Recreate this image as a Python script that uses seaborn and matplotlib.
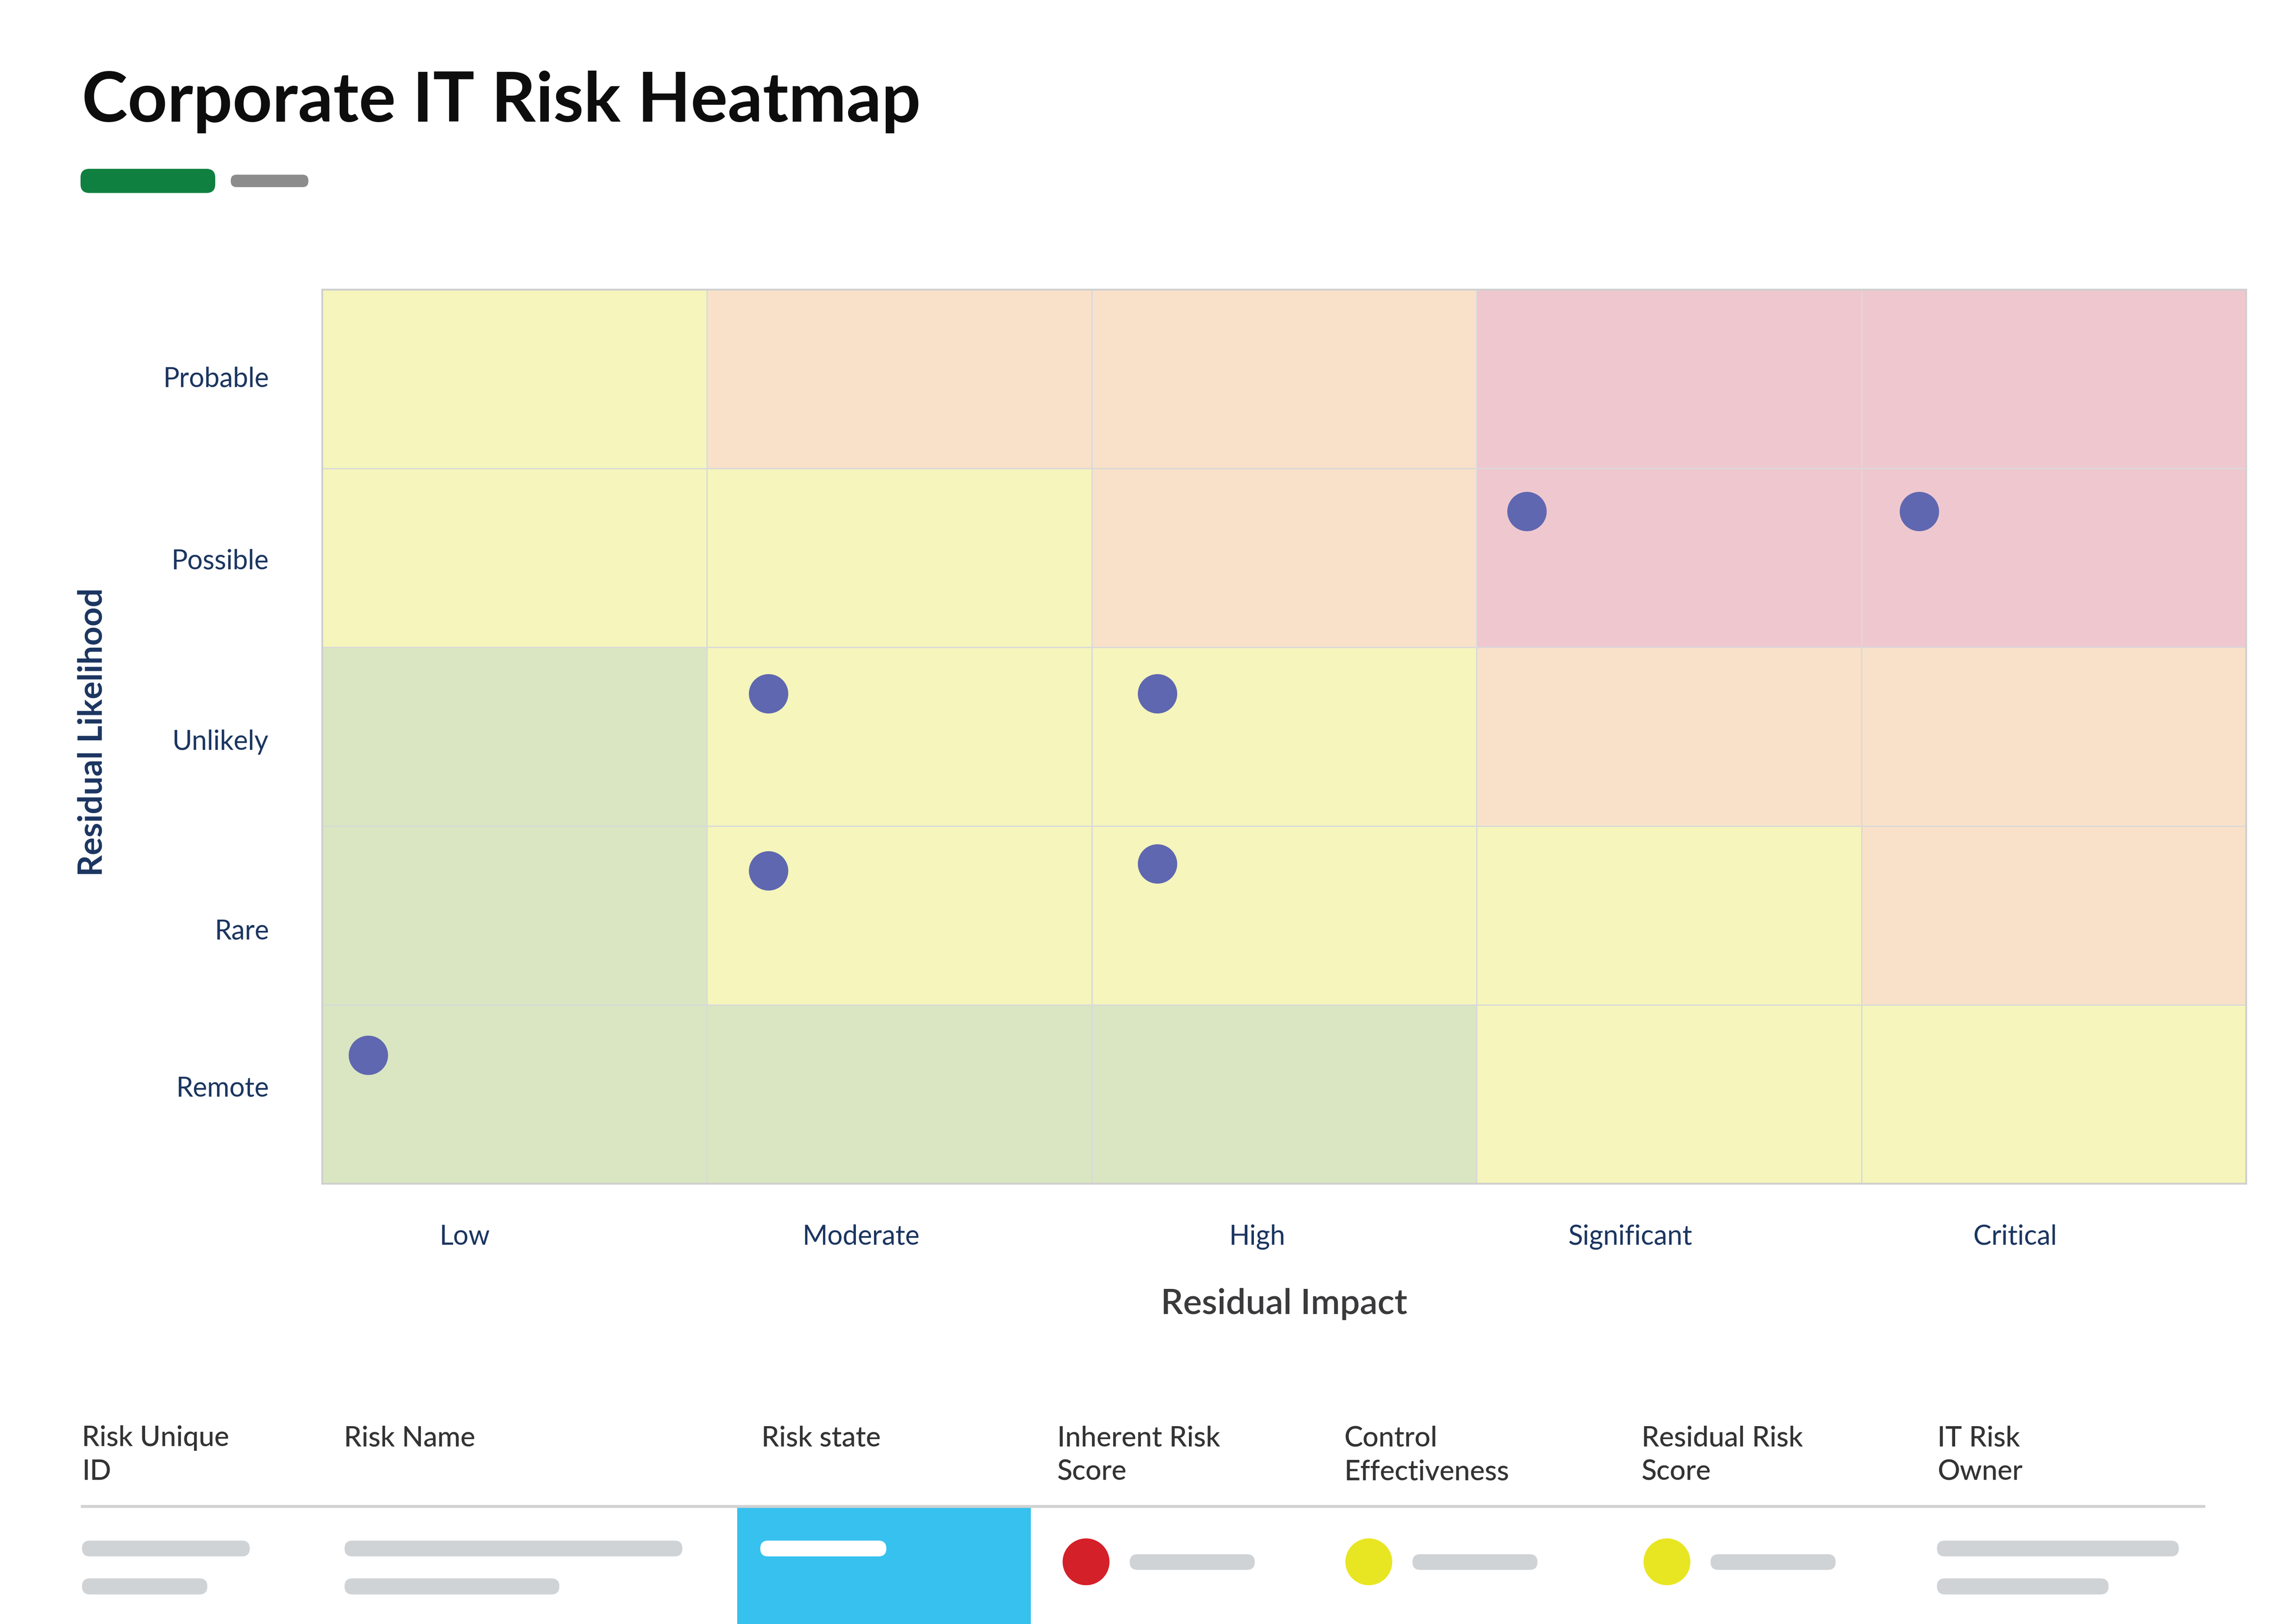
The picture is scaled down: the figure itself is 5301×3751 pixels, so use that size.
import numpy as np
import pandas as pd
import matplotlib
matplotlib.use('Agg')
import matplotlib.pyplot as plt
from matplotlib.colors import ListedColormap
from matplotlib.patches import FancyBboxPatch, Circle, Rectangle
import seaborn as sns

# 축 범주
impact_levels = ['Low', 'Moderate', 'High', 'Significant', 'Critical']
likelihood_levels = ['Probable', 'Possible', 'Unlikely', 'Rare', 'Remote']

# 셀 위험 등급 (1=낮음 녹색, 2=노랑, 3=주황, 4=분홍)
risk_grid = [
    [2, 3, 3, 4, 4],
    [2, 2, 3, 4, 4],
    [1, 2, 2, 3, 3],
    [1, 2, 2, 2, 3],
    [1, 1, 1, 2, 2],
]
level_colors = ['#d9e6c1', '#f5f5bc', '#f9e1c9', '#efc8cf']

# 위험 항목 위치 (셀 좌표계)
risk_impact = [3.13, 4.15, 1.16, 2.17, 1.16, 2.17, 0.12]
risk_likelihood = [1.24, 1.24, 2.26, 2.26, 3.25, 3.21, 4.28]

# 표 헤더
table_headers = ['Risk Unique\nID', 'Risk Name', 'Risk state', 'Inherent Risk\nScore',
                 'Control\nEffectiveness', 'Residual Risk\nScore', 'IT Risk\nOwner']
score_colors = ['#d42029', '#e8e622', '#e8e622']

NAVY = '#1b3560'
DOT = '#5f67b0'
PILL = '#d0d3d6'

sns.set_style('white')
plt.rcParams['font.family'] = ['Lato', 'DejaVu Sans']

fig = plt.figure(figsize=(5301 / 300, 3751 / 300), dpi=300)

# 장식용 오버레이 (기준 이미지 1568x1110 픽셀 좌표)
deco = fig.add_axes([0, 0, 1, 1])
deco.set_xlim(0, 1568)
deco.set_ylim(1110, 0)
deco.axis('off')

deco.text(56, 83.2, 'Corporate IT Risk Heatmap', fontsize=38.3, fontweight='bold',
          color='#0d0d0d', va='baseline', ha='left')
deco.add_patch(FancyBboxPatch((55, 115.4), 92, 16.5, boxstyle='round,pad=0,rounding_size=6',
                              fc='#108040', ec='none'))
deco.add_patch(FancyBboxPatch((157.6, 119.4), 53, 8.5, boxstyle='round,pad=0,rounding_size=4',
                              fc='#8c8c8c', ec='none'))

# 표 헤더
header_x = [56, 235, 520, 722, 918, 1121, 1323]
for hx, label in zip(header_x, table_headers):
    for i, line in enumerate(label.split('\n')):
        deco.text(hx, 988.5 + i * 23, line, fontsize=15.5, fontweight='medium',
                  color='#333333', va='baseline', ha='left')

deco.plot([55, 1506], [1029.5, 1029.5], color='#d2d2d2', lw=1.6, solid_capstyle='butt')
deco.add_patch(Rectangle((503.4, 1030.5), 200.7, 80, fc='#37c1ef', ec='none'))


def pill(x0, x1, y0, y1, color=PILL):
    h = y1 - y0
    deco.add_patch(FancyBboxPatch((x0, y0), x1 - x0, h,
                                  boxstyle=f'round,pad=0,rounding_size={h / 2}',
                                  fc=color, ec='none'))


pill(56, 170.6, 1053, 1063.8)
pill(56, 141.6, 1078.8, 1089.8)
pill(235.3, 466, 1053, 1063.8)
pill(235.3, 382, 1078.8, 1089.8)
pill(519.2, 605.3, 1053, 1063.8, '#ffffff')
for cx, col in zip([741.7, 934.8, 1138.4], score_colors):
    deco.add_patch(Circle((cx, 1067.5), 16, fc=col, ec='none'))
    pill(cx + 29.8, cx + 115.2, 1062.3, 1073)
pill(1322.8, 1488, 1053, 1063.8)
pill(1322.8, 1440, 1078.8, 1089.8)

# 히트맵
ax = fig.add_axes([220 / 1568, 1 - 809 / 1110, (1534 - 220) / 1568, (809 - 198) / 1110])
grid_df = pd.DataFrame(risk_grid, index=likelihood_levels, columns=impact_levels)
sns.heatmap(grid_df, ax=ax, cmap=ListedColormap(level_colors), vmin=0.5, vmax=4.5,
            cbar=False, linewidths=0.7, linecolor='#d9d9d9')
sns.scatterplot(x=risk_impact, y=risk_likelihood, ax=ax, s=476, color=DOT,
                linewidth=0, zorder=3)
ax.set_xlim(0, 5)
ax.set_ylim(5, 0)

for sp in ax.spines.values():
    sp.set_visible(True)
    sp.set_color('#cfcfcf')
    sp.set_linewidth(1.0)

ax.set_xticks(np.arange(len(impact_levels)) + [0.37, 0.4, 0.43, 0.4, 0.4])
ax.set_xticklabels(impact_levels, rotation=0)
ax.set_yticks(np.arange(len(likelihood_levels)) + [0.5, 0.52, 0.53, 0.59, 0.47])
ax.set_yticklabels(likelihood_levels, rotation=0)
ax.tick_params(axis='x', length=0, pad=22.5, labelsize=15, labelcolor=NAVY)
ax.tick_params(axis='y', length=0, pad=29.5, labelsize=15, labelcolor=NAVY)

ax.set_xlabel('Residual Impact', fontsize=19.5, fontweight='semibold', color='#3a3a3c')
ax.xaxis.set_label_coords(0.5, -0.117)
ax.set_ylabel('Residual Likelihood', fontsize=18.5, fontweight='bold', color=NAVY)
ax.yaxis.set_label_coords(-0.1115, 0.505)

fig.savefig('out.png', dpi=300, facecolor='white')
